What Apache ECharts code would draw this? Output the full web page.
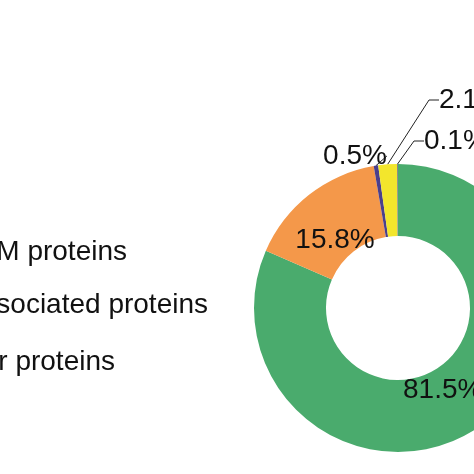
<!DOCTYPE html>
<html lang="en">
<head>
    <meta charset="utf-8">
    <title>Protein categories</title>
    <script src="https://cdn.jsdelivr.net/npm/echarts@6/dist/echarts.min.js"></script>
    <style type="text/css">
        html, body { margin: 0; padding: 0; background: #ffffff; }
        #main { width: 474px; height: 474px; }
    </style>
</head>
<body>
<div id="main"></div>
<script type="text/javascript">
    // slices in clockwise order from the top
    let categories = ['Other proteins', 'ECM-associated proteins', 'Minor A', 'ECM proteins', 'Minor B'];
    let values = [81.5, 15.8, 0.5, 2.1, 0.1];
    let colors = ['#4aab6d', '#f4984a', '#4b3f8c', '#f3e62c', '#7a7a7a'];
    let legendTexts = ['ECM proteins', 'ECM-associated proteins', 'Other proteins'];

    // where the labels sit: [x, y, align]
    let labelPos = {0: [403, 390, 'left'], 1: [335, 240, 'center'], 2: [355, 156, 'center'], 3: [439, 100, 'left'], 4: [424, 141, 'left']};

    let myChart = echarts.init(document.getElementById('main'));
    let data = [];
    for (let i = 0; i < values.length; i++) {
        let inside = values[i] > 10;
        data.push({
            name: categories[i],
            value: values[i],
            itemStyle: {color: colors[i]},
            label: {position: inside ? 'inside' : 'outside'},
            labelLine: {show: !inside}
        });
    }

    let font = '28px "Liberation Sans", Arial';
    myChart.setOption({
        animation: false,
        graphic: [
            {type: 'text', right: 474 - 127, top: 238, style: {text: legendTexts[0], font: font, fill: '#111'}},
            {type: 'text', right: 474 - 208, top: 291, style: {text: legendTexts[1], font: font, fill: '#111'}},
            {type: 'text', right: 474 - 115, top: 348, style: {text: legendTexts[2], font: font, fill: '#111'}}
        ],
        series: [{
            type: 'pie',
            center: [398, 308],
            radius: [72, 144],
            startAngle: 90,
            clockwise: true,
            data: data,
            label: {
                formatter: '{c}%',
                fontSize: 28,
                fontFamily: '"Liberation Sans", Arial',
                color: '#111'
            },
            labelLine: {
                lineStyle: {color: '#222', width: 1},
                length: 10,
                length2: 10
            },
            labelLayout: function (params) {
                let pos = labelPos[params.dataIndex];
                if (!pos) return {};
                return {x: pos[0], y: pos[1], align: pos[2], verticalAlign: 'middle'};
            }
        }]
    });
</script>
</body>
</html>
